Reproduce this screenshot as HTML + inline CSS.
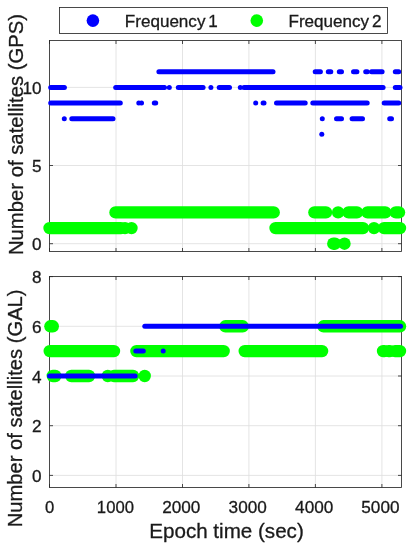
<!DOCTYPE html>
<html><head><meta charset="utf-8"><title>Number of satellites</title>
<style>
html,body{margin:0;padding:0;background:#fff;}
svg{display:block;}
text{font-family:"Liberation Sans",sans-serif;fill:#1a1a1a;stroke:#1a1a1a;stroke-width:0.3px;}
</style></head>
<body>
<svg width="410" height="550" viewBox="0 0 410 550">
<rect x="0" y="0" width="410" height="550" fill="#ffffff"/>
<line x1="116.0" y1="40.5" x2="116.0" y2="251.5" stroke="#dedede" stroke-width="0.83"/>
<line x1="182.5" y1="40.5" x2="182.5" y2="251.5" stroke="#dedede" stroke-width="0.83"/>
<line x1="248.9" y1="40.5" x2="248.9" y2="251.5" stroke="#dedede" stroke-width="0.83"/>
<line x1="315.4" y1="40.5" x2="315.4" y2="251.5" stroke="#dedede" stroke-width="0.83"/>
<line x1="381.9" y1="40.5" x2="381.9" y2="251.5" stroke="#dedede" stroke-width="0.83"/>
<line x1="49.5" y1="243.7" x2="401.5" y2="243.7" stroke="#dedede" stroke-width="0.83"/>
<line x1="49.5" y1="165.5" x2="401.5" y2="165.5" stroke="#dedede" stroke-width="0.83"/>
<line x1="49.5" y1="87.4" x2="401.5" y2="87.4" stroke="#dedede" stroke-width="0.83"/>
<line x1="116.0" y1="276.5" x2="116.0" y2="487.5" stroke="#dedede" stroke-width="0.83"/>
<line x1="182.5" y1="276.5" x2="182.5" y2="487.5" stroke="#dedede" stroke-width="0.83"/>
<line x1="248.9" y1="276.5" x2="248.9" y2="487.5" stroke="#dedede" stroke-width="0.83"/>
<line x1="315.4" y1="276.5" x2="315.4" y2="487.5" stroke="#dedede" stroke-width="0.83"/>
<line x1="381.9" y1="276.5" x2="381.9" y2="487.5" stroke="#dedede" stroke-width="0.83"/>
<line x1="49.5" y1="475.4" x2="401.5" y2="475.4" stroke="#dedede" stroke-width="0.83"/>
<line x1="49.5" y1="425.7" x2="401.5" y2="425.7" stroke="#dedede" stroke-width="0.83"/>
<line x1="49.5" y1="376.0" x2="401.5" y2="376.0" stroke="#dedede" stroke-width="0.83"/>
<line x1="49.5" y1="326.3" x2="401.5" y2="326.3" stroke="#dedede" stroke-width="0.83"/>
<line x1="49.5" y1="276.6" x2="401.5" y2="276.6" stroke="#dedede" stroke-width="0.83"/>
<rect x="49.5" y="40.5" width="352.0" height="211.0" fill="none" stroke="#262626" stroke-width="0.83"/>
<line x1="49.5" y1="251.5" x2="49.5" y2="248.0" stroke="#262626" stroke-width="0.83"/>
<line x1="49.5" y1="40.5" x2="49.5" y2="44.0" stroke="#262626" stroke-width="0.83"/>
<line x1="116.0" y1="251.5" x2="116.0" y2="248.0" stroke="#262626" stroke-width="0.83"/>
<line x1="116.0" y1="40.5" x2="116.0" y2="44.0" stroke="#262626" stroke-width="0.83"/>
<line x1="182.5" y1="251.5" x2="182.5" y2="248.0" stroke="#262626" stroke-width="0.83"/>
<line x1="182.5" y1="40.5" x2="182.5" y2="44.0" stroke="#262626" stroke-width="0.83"/>
<line x1="248.9" y1="251.5" x2="248.9" y2="248.0" stroke="#262626" stroke-width="0.83"/>
<line x1="248.9" y1="40.5" x2="248.9" y2="44.0" stroke="#262626" stroke-width="0.83"/>
<line x1="315.4" y1="251.5" x2="315.4" y2="248.0" stroke="#262626" stroke-width="0.83"/>
<line x1="315.4" y1="40.5" x2="315.4" y2="44.0" stroke="#262626" stroke-width="0.83"/>
<line x1="381.9" y1="251.5" x2="381.9" y2="248.0" stroke="#262626" stroke-width="0.83"/>
<line x1="381.9" y1="40.5" x2="381.9" y2="44.0" stroke="#262626" stroke-width="0.83"/>
<line x1="49.5" y1="243.7" x2="53.0" y2="243.7" stroke="#262626" stroke-width="0.83"/>
<line x1="401.5" y1="243.7" x2="398.0" y2="243.7" stroke="#262626" stroke-width="0.83"/>
<line x1="49.5" y1="165.5" x2="53.0" y2="165.5" stroke="#262626" stroke-width="0.83"/>
<line x1="401.5" y1="165.5" x2="398.0" y2="165.5" stroke="#262626" stroke-width="0.83"/>
<line x1="49.5" y1="87.4" x2="53.0" y2="87.4" stroke="#262626" stroke-width="0.83"/>
<line x1="401.5" y1="87.4" x2="398.0" y2="87.4" stroke="#262626" stroke-width="0.83"/>
<rect x="49.5" y="276.5" width="352.0" height="211.0" fill="none" stroke="#262626" stroke-width="0.83"/>
<line x1="49.5" y1="487.5" x2="49.5" y2="484.0" stroke="#262626" stroke-width="0.83"/>
<line x1="49.5" y1="276.5" x2="49.5" y2="280.0" stroke="#262626" stroke-width="0.83"/>
<line x1="116.0" y1="487.5" x2="116.0" y2="484.0" stroke="#262626" stroke-width="0.83"/>
<line x1="116.0" y1="276.5" x2="116.0" y2="280.0" stroke="#262626" stroke-width="0.83"/>
<line x1="182.5" y1="487.5" x2="182.5" y2="484.0" stroke="#262626" stroke-width="0.83"/>
<line x1="182.5" y1="276.5" x2="182.5" y2="280.0" stroke="#262626" stroke-width="0.83"/>
<line x1="248.9" y1="487.5" x2="248.9" y2="484.0" stroke="#262626" stroke-width="0.83"/>
<line x1="248.9" y1="276.5" x2="248.9" y2="280.0" stroke="#262626" stroke-width="0.83"/>
<line x1="315.4" y1="487.5" x2="315.4" y2="484.0" stroke="#262626" stroke-width="0.83"/>
<line x1="315.4" y1="276.5" x2="315.4" y2="280.0" stroke="#262626" stroke-width="0.83"/>
<line x1="381.9" y1="487.5" x2="381.9" y2="484.0" stroke="#262626" stroke-width="0.83"/>
<line x1="381.9" y1="276.5" x2="381.9" y2="280.0" stroke="#262626" stroke-width="0.83"/>
<line x1="49.5" y1="475.4" x2="53.0" y2="475.4" stroke="#262626" stroke-width="0.83"/>
<line x1="401.5" y1="475.4" x2="398.0" y2="475.4" stroke="#262626" stroke-width="0.83"/>
<line x1="49.5" y1="425.7" x2="53.0" y2="425.7" stroke="#262626" stroke-width="0.83"/>
<line x1="401.5" y1="425.7" x2="398.0" y2="425.7" stroke="#262626" stroke-width="0.83"/>
<line x1="49.5" y1="376.0" x2="53.0" y2="376.0" stroke="#262626" stroke-width="0.83"/>
<line x1="401.5" y1="376.0" x2="398.0" y2="376.0" stroke="#262626" stroke-width="0.83"/>
<line x1="49.5" y1="326.3" x2="53.0" y2="326.3" stroke="#262626" stroke-width="0.83"/>
<line x1="401.5" y1="326.3" x2="398.0" y2="326.3" stroke="#262626" stroke-width="0.83"/>
<line x1="49.5" y1="276.6" x2="53.0" y2="276.6" stroke="#262626" stroke-width="0.83"/>
<line x1="401.5" y1="276.6" x2="398.0" y2="276.6" stroke="#262626" stroke-width="0.83"/>
<line x1="158.9" y1="71.8" x2="273.0" y2="71.8" stroke="#0000ff" stroke-width="5.0" stroke-linecap="round"/>
<line x1="315.2" y1="71.8" x2="320.4" y2="71.8" stroke="#0000ff" stroke-width="5.0" stroke-linecap="round"/>
<line x1="328.3" y1="71.8" x2="330.8" y2="71.8" stroke="#0000ff" stroke-width="5.0" stroke-linecap="round"/>
<line x1="339.3" y1="71.8" x2="341.5" y2="71.8" stroke="#0000ff" stroke-width="5.0" stroke-linecap="round"/>
<line x1="353.5" y1="71.8" x2="356.9" y2="71.8" stroke="#0000ff" stroke-width="5.0" stroke-linecap="round"/>
<line x1="365.7" y1="71.8" x2="367.3" y2="71.8" stroke="#0000ff" stroke-width="5.0" stroke-linecap="round"/>
<line x1="371.5" y1="71.8" x2="382.1" y2="71.8" stroke="#0000ff" stroke-width="5.0" stroke-linecap="round"/>
<line x1="395.3" y1="71.8" x2="398.7" y2="71.8" stroke="#0000ff" stroke-width="5.0" stroke-linecap="round"/>
<line x1="50.7" y1="87.4" x2="64.4" y2="87.4" stroke="#0000ff" stroke-width="5.0" stroke-linecap="round"/>
<line x1="115.7" y1="87.4" x2="164.5" y2="87.4" stroke="#0000ff" stroke-width="5.0" stroke-linecap="round"/>
<circle cx="169.3" cy="87.4" r="2.50" fill="#0000ff"/>
<line x1="178.3" y1="87.4" x2="203.1" y2="87.4" stroke="#0000ff" stroke-width="5.0" stroke-linecap="round"/>
<circle cx="210.9" cy="87.4" r="2.50" fill="#0000ff"/>
<line x1="219.2" y1="87.4" x2="229.5" y2="87.4" stroke="#0000ff" stroke-width="5.0" stroke-linecap="round"/>
<circle cx="240.3" cy="87.4" r="2.50" fill="#0000ff"/>
<line x1="244.0" y1="87.4" x2="383.1" y2="87.4" stroke="#0000ff" stroke-width="5.0" stroke-linecap="round"/>
<line x1="395.3" y1="87.4" x2="400.0" y2="87.4" stroke="#0000ff" stroke-width="5.0" stroke-linecap="round"/>
<line x1="50.7" y1="103.0" x2="120.3" y2="103.0" stroke="#0000ff" stroke-width="5.0" stroke-linecap="round"/>
<circle cx="138.8" cy="103.0" r="2.50" fill="#0000ff"/>
<circle cx="141.5" cy="103.0" r="2.50" fill="#0000ff"/>
<line x1="154.3" y1="103.0" x2="155.7" y2="103.0" stroke="#0000ff" stroke-width="5.0" stroke-linecap="round"/>
<circle cx="255.7" cy="103.0" r="2.50" fill="#0000ff"/>
<line x1="263.1" y1="103.0" x2="264.0" y2="103.0" stroke="#0000ff" stroke-width="5.0" stroke-linecap="round"/>
<line x1="276.5" y1="103.0" x2="305.2" y2="103.0" stroke="#0000ff" stroke-width="5.0" stroke-linecap="round"/>
<line x1="312.8" y1="103.0" x2="367.2" y2="103.0" stroke="#0000ff" stroke-width="5.0" stroke-linecap="round"/>
<line x1="384.2" y1="103.0" x2="398.7" y2="103.0" stroke="#0000ff" stroke-width="5.0" stroke-linecap="round"/>
<circle cx="64.3" cy="118.7" r="2.50" fill="#0000ff"/>
<line x1="71.8" y1="118.7" x2="113.0" y2="118.7" stroke="#0000ff" stroke-width="5.0" stroke-linecap="round"/>
<circle cx="322.3" cy="118.7" r="2.50" fill="#0000ff"/>
<line x1="336.5" y1="118.7" x2="341.5" y2="118.7" stroke="#0000ff" stroke-width="5.0" stroke-linecap="round"/>
<line x1="352.1" y1="118.7" x2="362.5" y2="118.7" stroke="#0000ff" stroke-width="5.0" stroke-linecap="round"/>
<line x1="389.7" y1="118.7" x2="391.5" y2="118.7" stroke="#0000ff" stroke-width="5.0" stroke-linecap="round"/>
<circle cx="321.8" cy="134.3" r="2.50" fill="#0000ff"/>
<line x1="115.5" y1="212.4" x2="273.7" y2="212.4" stroke="#00ff00" stroke-width="12.4" stroke-linecap="round"/>
<line x1="314.4" y1="212.4" x2="326.0" y2="212.4" stroke="#00ff00" stroke-width="12.4" stroke-linecap="round"/>
<circle cx="338.1" cy="212.4" r="6.20" fill="#00ff00"/>
<line x1="348.5" y1="212.4" x2="357.0" y2="212.4" stroke="#00ff00" stroke-width="12.4" stroke-linecap="round"/>
<line x1="367.5" y1="212.4" x2="385.3" y2="212.4" stroke="#00ff00" stroke-width="12.4" stroke-linecap="round"/>
<line x1="395.8" y1="212.4" x2="399.0" y2="212.4" stroke="#00ff00" stroke-width="12.4" stroke-linecap="round"/>
<line x1="49.5" y1="228.1" x2="121.0" y2="228.1" stroke="#00ff00" stroke-width="12.4" stroke-linecap="round"/>
<circle cx="125.0" cy="228.1" r="6.20" fill="#00ff00"/>
<circle cx="131.5" cy="228.1" r="6.20" fill="#00ff00"/>
<line x1="275.5" y1="228.1" x2="363.0" y2="228.1" stroke="#00ff00" stroke-width="12.4" stroke-linecap="round"/>
<circle cx="374.0" cy="228.1" r="6.20" fill="#00ff00"/>
<line x1="384.0" y1="228.1" x2="400.0" y2="228.1" stroke="#00ff00" stroke-width="12.4" stroke-linecap="round"/>
<line x1="333.3" y1="243.7" x2="335.0" y2="243.7" stroke="#00ff00" stroke-width="12.4" stroke-linecap="round"/>
<circle cx="344.5" cy="243.7" r="6.20" fill="#00ff00"/>
<line x1="50.4" y1="326.3" x2="52.8" y2="326.3" stroke="#00ff00" stroke-width="12.4" stroke-linecap="round"/>
<line x1="225.4" y1="326.3" x2="242.7" y2="326.3" stroke="#00ff00" stroke-width="12.4" stroke-linecap="round"/>
<line x1="323.5" y1="326.3" x2="400.0" y2="326.3" stroke="#00ff00" stroke-width="12.4" stroke-linecap="round"/>
<line x1="49.7" y1="351.1" x2="114.0" y2="351.1" stroke="#00ff00" stroke-width="12.4" stroke-linecap="round"/>
<line x1="136.4" y1="351.1" x2="223.7" y2="351.1" stroke="#00ff00" stroke-width="12.4" stroke-linecap="round"/>
<line x1="244.7" y1="351.1" x2="322.1" y2="351.1" stroke="#00ff00" stroke-width="12.4" stroke-linecap="round"/>
<line x1="383.0" y1="351.1" x2="384.5" y2="351.1" stroke="#00ff00" stroke-width="12.4" stroke-linecap="round"/>
<line x1="388.5" y1="351.1" x2="390.0" y2="351.1" stroke="#00ff00" stroke-width="12.4" stroke-linecap="round"/>
<line x1="395.0" y1="351.1" x2="400.0" y2="351.1" stroke="#00ff00" stroke-width="12.4" stroke-linecap="round"/>
<line x1="52.8" y1="376.0" x2="55.3" y2="376.0" stroke="#00ff00" stroke-width="12.4" stroke-linecap="round"/>
<line x1="71.3" y1="376.0" x2="89.0" y2="376.0" stroke="#00ff00" stroke-width="12.4" stroke-linecap="round"/>
<circle cx="107.8" cy="376.0" r="6.20" fill="#00ff00"/>
<line x1="114.0" y1="376.0" x2="133.0" y2="376.0" stroke="#00ff00" stroke-width="12.4" stroke-linecap="round"/>
<circle cx="144.7" cy="376.0" r="6.20" fill="#00ff00"/>
<line x1="144.8" y1="326.3" x2="400.5" y2="326.3" stroke="#0000ff" stroke-width="5.0" stroke-linecap="round"/>
<line x1="135.8" y1="351.1" x2="143.3" y2="351.1" stroke="#0000ff" stroke-width="5.0" stroke-linecap="round"/>
<circle cx="163.2" cy="351.1" r="2.50" fill="#0000ff"/>
<line x1="49.5" y1="376.0" x2="135.1" y2="376.0" stroke="#0000ff" stroke-width="5.0" stroke-linecap="round"/>
<text transform="translate(41.5,250.4) scale(1.03,1)" font-size="16.67" text-anchor="end">0</text>
<text transform="translate(41.5,172.2) scale(1.03,1)" font-size="16.67" text-anchor="end">5</text>
<text transform="translate(41.5,94.1) scale(1.03,1)" font-size="16.67" text-anchor="end">10</text>
<text transform="translate(41.5,482.1) scale(1.03,1)" font-size="16.67" text-anchor="end">0</text>
<text transform="translate(41.5,432.4) scale(1.03,1)" font-size="16.67" text-anchor="end">2</text>
<text transform="translate(41.5,382.7) scale(1.03,1)" font-size="16.67" text-anchor="end">4</text>
<text transform="translate(41.5,333.0) scale(1.03,1)" font-size="16.67" text-anchor="end">6</text>
<text transform="translate(41.5,283.3) scale(1.03,1)" font-size="16.67" text-anchor="end">8</text>
<text transform="translate(49.5,512.6) scale(1.0,1)" font-size="16.67" text-anchor="middle">0</text>
<text transform="translate(115.4,512.6) scale(1.0,1)" font-size="16.67" text-anchor="middle">1000</text>
<text transform="translate(181.3,512.6) scale(1.032,1)" font-size="16.67" text-anchor="middle">2000</text>
<text transform="translate(247.7,512.6) scale(1.032,1)" font-size="16.67" text-anchor="middle">3000</text>
<text transform="translate(314.2,512.6) scale(1.032,1)" font-size="16.67" text-anchor="middle">4000</text>
<text transform="translate(380.4,512.6) scale(1.032,1)" font-size="16.67" text-anchor="middle">5000</text>
<text x="226.5" y="538" font-size="20.6" text-anchor="middle" >Epoch time (sec)</text>
<text transform="translate(22.6,255.1) rotate(-90)" font-size="20.3">Number of satellites (GPS)</text>
<text transform="translate(21.8,527.3) rotate(-90)" font-size="20.2">Number of satellites (GAL)</text>
<rect x="59.5" y="7.5" width="328" height="26" fill="#ffffff" stroke="#262626" stroke-width="0.83"/>
<circle cx="92.9" cy="20.6" r="6.3" fill="#0000ff"/>
<circle cx="256.8" cy="20.6" r="6.3" fill="#00ff00"/>
<text transform="translate(124.8,26.6) scale(1.025,1)" font-size="16.67">Frequency<tspan dx="-1.8"> 1</tspan></text>
<text transform="translate(288.5,26.6) scale(1.025,1)" font-size="16.67">Frequency<tspan dx="-1.8"> 2</tspan></text>
</svg>
</body></html>
